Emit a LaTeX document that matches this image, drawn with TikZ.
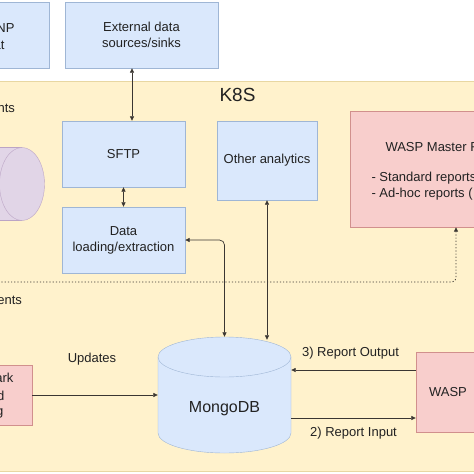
\documentclass[tikz,border=0pt]{standalone}
\usepackage{fontspec}
\setmainfont{Liberation Sans}
\usetikzlibrary{positioning,arrows.meta}
\usepackage{xcolor}
\definecolor{bluefill}{HTML}{DAE8FC}
\definecolor{blueline}{HTML}{6C8EBF}
\definecolor{redfill}{HTML}{F8CECC}
\definecolor{redline}{HTML}{B85450}
\definecolor{k8sfill}{HTML}{FFF2CC}
\definecolor{k8sline}{HTML}{D6B656}
\definecolor{purplefill}{HTML}{E1D5E7}
\definecolor{purpleline}{HTML}{9673A6}
\definecolor{linkgray}{HTML}{3A3632}
\definecolor{textgray}{HTML}{222222}

\begin{document}
\begin{tikzpicture}[x=1pt,y=-1pt,>={Triangle[length=4.5pt,width=4pt]},
  font=\fontsize{13}{16}\selectfont,text=textgray,
  bluebox/.style={draw=blueline!65,fill=bluefill,align=center,inner sep=0pt},
  redbox/.style={draw=redline!65,fill=redfill,align=center,inner sep=0pt},
  dbshape/.style={draw=blueline!65,fill=bluefill},
  link/.style={draw=linkgray,line width=0.7pt},
  dotlink/.style={draw=linkgray,line width=0.8pt,dash pattern=on 1.2pt off 2pt}]
\useasboundingbox (0,0) rectangle (474,474);
\clip (0,0) rectangle (474,474);

% boxes outside the cluster
\node[bluebox,minimum width=109pt,minimum height=66pt] (topleft) at (-5.5,35) {};
\node[anchor=east] (topleft1) at (18,28) {NP};
\node[anchor=east] (topleft2) at (8,45) {at};
\node[bluebox,minimum width=153pt,minimum height=66pt] (ext) at (141.5,35) {External data\\sources/sinks};

% K8S cluster
\draw[draw=k8sline!55,fill=k8sfill] (-10,81) rectangle (484,471);
\node[font=\fontsize{19}{22}\selectfont] (k8s) at (237.5,95) {K8S};
\node[anchor=east] (comp1) at (18.5,108) {nts};
\node[anchor=east] (comp2) at (25.5,300) {ents};

\node[bluebox,minimum width=123pt,minimum height=66pt] (sftp) at (123.5,154) {SFTP};
\node[bluebox,minimum width=123pt,minimum height=66pt] (dle) at (123.5,240) {Data\\loading/extraction};
\node[bluebox,minimum width=100pt,minimum height=79pt] (other) at (267,160.5) {Other analytics};

\node[redbox,minimum width=180pt,minimum height=116pt] (master) at (440,169) {};
\node[anchor=west] (master1) at (382,147) {WASP Master R};
\node[anchor=west] (master2) at (368,178) {- Standard reports};
\node[anchor=west] (master3) at (368,194) {- Ad-hoc reports (};

% purple store, cut at the left edge
\fill[purplefill] (-40,147.5) rectangle (22,220.5);
\draw[purpleline!65] (-40,147.5) -- (22,147.5) (-40,220.5) -- (22,220.5);
\draw[purpleline!65,fill=purplefill] (22,184) ellipse [x radius=22.5,y radius=36.5];

\node[redbox,minimum width=92pt,minimum height=60pt] (spark) at (-14,395) {};
\node[anchor=east] (spark1) at (17,378) {ark};
\node[anchor=east] (spark2) at (8,396) {d};
\node[anchor=east] (spark3) at (7,413) {g};

% MongoDB
\path[dbshape] (158,357) -- (158,433) arc[start angle=180,end angle=0,x radius=66.5,y radius=20]
  -- (291,357) arc[start angle=0,end angle=-180,x radius=66.5,y radius=20] -- cycle;
\draw[draw=blueline!65] (158,357) arc[start angle=180,end angle=0,x radius=66.5,y radius=20];
\node[minimum width=133pt,minimum height=116pt,inner sep=0pt] (mongo) at (224.5,395) {};
\node[font=\fontsize{16}{19}\selectfont] (mongotext) at ([yshift=-14pt]mongo.center) {MongoDB};
\coordinate (dbtop) at ([yshift=-3pt]mongo.north);

\node[redbox,minimum width=64pt,minimum height=80pt] (wasp) at (448,392) {WASP};

% connectors
\draw[link,<->] ([xshift=8.5pt]sftp.north) -- ([xshift=8.5pt]sftp.north |- ext.south);
\draw[link,<->] (sftp) -- (dle);
\draw[link,<->,rounded corners=5pt] (dle.east) -| (mongo.north);
\draw[link,<->] (other.south) -- (other.south |- dbtop);
\draw[link,->] (spark.east) -- (spark.east -| mongo.west)
  node[midway,yshift=36pt,xshift=-3pt] {Updates};
\draw[link,->] ([yshift=22pt]wasp.west) -- ([yshift=22pt]wasp.west -| mongo.east)
  node[midway,yshift=17pt,xshift=-3pt] {3) Report Output};
\draw[link,->] ([yshift=-26pt]wasp.west -| mongo.east) -- ([yshift=-26pt]wasp.west)
  node[midway,yshift=-15pt] {2) Report Input};
\coordinate (dotstart) at (-5,282);
\draw[dotlink,->,rounded corners=4pt] (dotstart) -| ([xshift=16pt]master.south);
\end{tikzpicture}
\end{document}
